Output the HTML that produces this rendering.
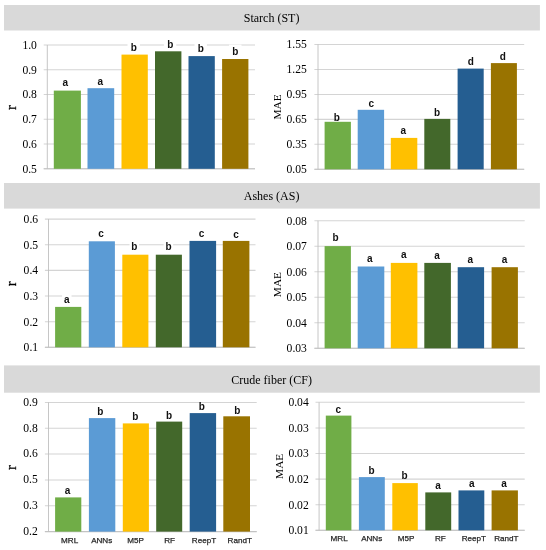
<!DOCTYPE html>
<html lang="en"><head><meta charset="utf-8"><title>Figure</title>
<style>html,body{margin:0;padding:0;background:#fff}svg{display:block}.t{font-family:"Liberation Serif","Times New Roman",serif;fill:#000}.s{font-family:"Liberation Sans",Arial,sans-serif}</style></head><body>
<svg width="546" height="550" viewBox="0 0 546 550">
<rect width="546" height="550" fill="#fff"/>
<rect x="4" y="5" width="535.9" height="25.5" fill="#D9D9D9"/>
<text class="t" x="271.6" y="22.1" font-size="12" text-anchor="middle">Starch (ST)</text>
<rect x="4" y="183" width="535.9" height="25.6" fill="#D9D9D9"/>
<text class="t" x="271.6" y="200.1" font-size="12" text-anchor="middle">Ashes (AS)</text>
<rect x="4" y="365.4" width="535.9" height="27.3" fill="#D9D9D9"/>
<text class="t" x="271.6" y="383.8" font-size="12" text-anchor="middle">Crude fiber (CF)</text>
<g>
<line x1="43.7" y1="45" x2="255" y2="45" stroke="#D4D4D4" stroke-width="1.05"/>
<text class="t" x="36.9" y="48.9" font-size="11.6" text-anchor="end">1.0</text>
<line x1="43.7" y1="69.76" x2="255" y2="69.76" stroke="#D4D4D4" stroke-width="1.05"/>
<text class="t" x="36.9" y="73.66" font-size="11.6" text-anchor="end">0.9</text>
<line x1="43.7" y1="94.52" x2="255" y2="94.52" stroke="#D4D4D4" stroke-width="1.05"/>
<text class="t" x="36.9" y="98.42" font-size="11.6" text-anchor="end">0.8</text>
<line x1="43.7" y1="119.28" x2="255" y2="119.28" stroke="#D4D4D4" stroke-width="1.05"/>
<text class="t" x="36.9" y="123.18" font-size="11.6" text-anchor="end">0.7</text>
<line x1="43.7" y1="144.04" x2="255" y2="144.04" stroke="#D4D4D4" stroke-width="1.05"/>
<text class="t" x="36.9" y="147.94" font-size="11.6" text-anchor="end">0.6</text>
<line x1="43.7" y1="168.8" x2="255" y2="168.8" stroke="#D4D4D4" stroke-width="1.05"/>
<text class="t" x="36.9" y="172.7" font-size="11.6" text-anchor="end">0.5</text>
<line x1="47.3" y1="45" x2="47.3" y2="168.8" stroke="#BFBFBF" stroke-width="0.9"/>
<line x1="43.7" y1="168.8" x2="255" y2="168.8" stroke="#BFBFBF" stroke-width="0.9"/>
<rect x="58.9" y="75.7" width="12.4" height="13" fill="#fff"/>
<rect x="94.1" y="74.8" width="12.4" height="13" fill="#fff"/>
<rect x="127.5" y="40.6" width="12.4" height="13" fill="#fff"/>
<rect x="163.9" y="38" width="12.4" height="13" fill="#fff"/>
<rect x="194.5" y="42.1" width="12.4" height="13" fill="#fff"/>
<rect x="229.1" y="44.6" width="12.4" height="13" fill="#fff"/>
<rect x="53.8" y="90.6" width="27.1" height="78.2" fill="#70AD47"/>
<rect x="87.5" y="88.2" width="26.7" height="80.6" fill="#5B9BD5"/>
<rect x="121.5" y="54.6" width="26.3" height="114.2" fill="#FFC000"/>
<rect x="155" y="51.3" width="26.4" height="117.5" fill="#43682B"/>
<rect x="188.5" y="56.1" width="26.3" height="112.7" fill="#255E91"/>
<rect x="222.1" y="59" width="26.3" height="109.8" fill="#997300"/>
<text class="s" x="65.2" y="86" font-size="10" font-weight="bold" fill="#111" stroke="#111" stroke-width="0" text-anchor="middle">a</text>
<text class="s" x="100.4" y="85.1" font-size="10" font-weight="bold" fill="#111" stroke="#111" stroke-width="0" text-anchor="middle">a</text>
<text class="s" x="133.8" y="50.9" font-size="10" font-weight="bold" fill="#111" stroke="#111" stroke-width="0" text-anchor="middle">b</text>
<text class="s" x="170.2" y="48.3" font-size="10" font-weight="bold" fill="#111" stroke="#111" stroke-width="0" text-anchor="middle">b</text>
<text class="s" x="200.8" y="52.4" font-size="10" font-weight="bold" fill="#111" stroke="#111" stroke-width="0" text-anchor="middle">b</text>
<text class="s" x="235.4" y="54.9" font-size="10" font-weight="bold" fill="#111" stroke="#111" stroke-width="0" text-anchor="middle">b</text>
<text class="t" transform="translate(16 107.5) rotate(-90)" font-size="14.5" stroke="#000" stroke-width="0.3" text-anchor="middle">r</text>
</g>
<g>
<line x1="314.4" y1="44.5" x2="524.2" y2="44.5" stroke="#D4D4D4" stroke-width="1.05"/>
<text class="t" x="306.8" y="48.1" font-size="11.6" text-anchor="end">1.55</text>
<line x1="314.4" y1="69.46" x2="524.2" y2="69.46" stroke="#D4D4D4" stroke-width="1.05"/>
<text class="t" x="306.8" y="73.06" font-size="11.6" text-anchor="end">1.25</text>
<line x1="314.4" y1="94.42" x2="524.2" y2="94.42" stroke="#D4D4D4" stroke-width="1.05"/>
<text class="t" x="306.8" y="98.02" font-size="11.6" text-anchor="end">0.95</text>
<line x1="314.4" y1="119.38" x2="524.2" y2="119.38" stroke="#D4D4D4" stroke-width="1.05"/>
<text class="t" x="306.8" y="122.98" font-size="11.6" text-anchor="end">0.65</text>
<line x1="314.4" y1="144.34" x2="524.2" y2="144.34" stroke="#D4D4D4" stroke-width="1.05"/>
<text class="t" x="306.8" y="147.94" font-size="11.6" text-anchor="end">0.35</text>
<line x1="314.4" y1="169.3" x2="524.2" y2="169.3" stroke="#D4D4D4" stroke-width="1.05"/>
<text class="t" x="306.8" y="172.9" font-size="11.6" text-anchor="end">0.05</text>
<line x1="318" y1="44.5" x2="318" y2="169.3" stroke="#BFBFBF" stroke-width="0.9"/>
<line x1="314.4" y1="169.3" x2="524.2" y2="169.3" stroke="#BFBFBF" stroke-width="0.9"/>
<rect x="324.6" y="121.8" width="26.3" height="47.5" fill="#70AD47"/>
<rect x="357.7" y="109.8" width="26.4" height="59.5" fill="#5B9BD5"/>
<rect x="390.8" y="137.9" width="26.5" height="31.4" fill="#FFC000"/>
<rect x="424.3" y="118.9" width="26" height="50.4" fill="#43682B"/>
<rect x="457.6" y="68.6" width="26.1" height="100.7" fill="#255E91"/>
<rect x="490.9" y="63.1" width="26" height="106.2" fill="#997300"/>
<text class="s" x="336.9" y="120.6" font-size="10" font-weight="bold" fill="#111" stroke="#111" stroke-width="0" text-anchor="middle">b</text>
<text class="s" x="371.2" y="107.3" font-size="10" font-weight="bold" fill="#111" stroke="#111" stroke-width="0" text-anchor="middle">c</text>
<text class="s" x="403.2" y="133.6" font-size="10" font-weight="bold" fill="#111" stroke="#111" stroke-width="0" text-anchor="middle">a</text>
<text class="s" x="437" y="116.3" font-size="10" font-weight="bold" fill="#111" stroke="#111" stroke-width="0" text-anchor="middle">b</text>
<text class="s" x="470.8" y="65.4" font-size="10" font-weight="bold" fill="#111" stroke="#111" stroke-width="0" text-anchor="middle">d</text>
<text class="s" x="502.9" y="59.6" font-size="10" font-weight="bold" fill="#111" stroke="#111" stroke-width="0" text-anchor="middle">d</text>
<text class="t" transform="translate(281.4 106.9) rotate(-90)" font-size="11" text-anchor="middle" textLength="25.2" lengthAdjust="spacingAndGlyphs">MAE</text>
</g>
<g>
<line x1="44.9" y1="219.1" x2="255.5" y2="219.1" stroke="#D4D4D4" stroke-width="1.05"/>
<text class="t" x="38.1" y="223" font-size="11.6" text-anchor="end">0.6</text>
<line x1="44.9" y1="244.74" x2="255.5" y2="244.74" stroke="#D4D4D4" stroke-width="1.05"/>
<text class="t" x="38.1" y="248.64" font-size="11.6" text-anchor="end">0.5</text>
<line x1="44.9" y1="270.38" x2="255.5" y2="270.38" stroke="#D4D4D4" stroke-width="1.05"/>
<text class="t" x="38.1" y="274.28" font-size="11.6" text-anchor="end">0.4</text>
<line x1="44.9" y1="296.02" x2="255.5" y2="296.02" stroke="#D4D4D4" stroke-width="1.05"/>
<text class="t" x="38.1" y="299.92" font-size="11.6" text-anchor="end">0.3</text>
<line x1="44.9" y1="321.66" x2="255.5" y2="321.66" stroke="#D4D4D4" stroke-width="1.05"/>
<text class="t" x="38.1" y="325.56" font-size="11.6" text-anchor="end">0.2</text>
<line x1="44.9" y1="347.3" x2="255.5" y2="347.3" stroke="#D4D4D4" stroke-width="1.05"/>
<text class="t" x="38.1" y="351.2" font-size="11.6" text-anchor="end">0.1</text>
<line x1="48.5" y1="219.1" x2="48.5" y2="347.3" stroke="#BFBFBF" stroke-width="0.9"/>
<line x1="44.9" y1="347.3" x2="255.5" y2="347.3" stroke="#BFBFBF" stroke-width="0.9"/>
<rect x="62.05" y="292.8" width="9.5" height="13" fill="#fff"/>
<rect x="96.15" y="227.1" width="9.5" height="13" fill="#fff"/>
<rect x="129.55" y="240.1" width="9.5" height="13" fill="#fff"/>
<rect x="163.65" y="240.1" width="9.5" height="13" fill="#fff"/>
<rect x="196.65" y="227.1" width="9.5" height="13" fill="#fff"/>
<rect x="231.25" y="228.1" width="9.5" height="13" fill="#fff"/>
<rect x="55.1" y="306.9" width="26.2" height="40.4" fill="#70AD47"/>
<rect x="88.8" y="241.3" width="26.1" height="106" fill="#5B9BD5"/>
<rect x="122.3" y="254.7" width="26.1" height="92.6" fill="#FFC000"/>
<rect x="155.8" y="254.7" width="26.1" height="92.6" fill="#43682B"/>
<rect x="189.5" y="240.9" width="26.6" height="106.4" fill="#255E91"/>
<rect x="222.8" y="240.9" width="26.6" height="106.4" fill="#997300"/>
<text class="s" x="66.9" y="303.1" font-size="10" font-weight="bold" fill="#111" stroke="#111" stroke-width="0" text-anchor="middle">a</text>
<text class="s" x="101" y="237.4" font-size="10" font-weight="bold" fill="#111" stroke="#111" stroke-width="0" text-anchor="middle">c</text>
<text class="s" x="134.4" y="250.4" font-size="10" font-weight="bold" fill="#111" stroke="#111" stroke-width="0" text-anchor="middle">b</text>
<text class="s" x="168.5" y="250.4" font-size="10" font-weight="bold" fill="#111" stroke="#111" stroke-width="0" text-anchor="middle">b</text>
<text class="s" x="201.5" y="237.4" font-size="10" font-weight="bold" fill="#111" stroke="#111" stroke-width="0" text-anchor="middle">c</text>
<text class="s" x="236.1" y="238.4" font-size="10" font-weight="bold" fill="#111" stroke="#111" stroke-width="0" text-anchor="middle">c</text>
<text class="t" transform="translate(16 283.8) rotate(-90)" font-size="14.5" stroke="#000" stroke-width="0.3" text-anchor="middle">r</text>
</g>
<g>
<line x1="314.4" y1="220.8" x2="524.7" y2="220.8" stroke="#D4D4D4" stroke-width="1.05"/>
<text class="t" x="306.9" y="224.7" font-size="11.6" text-anchor="end">0.08</text>
<line x1="314.4" y1="246.3" x2="524.7" y2="246.3" stroke="#D4D4D4" stroke-width="1.05"/>
<text class="t" x="306.9" y="250.2" font-size="11.6" text-anchor="end">0.07</text>
<line x1="314.4" y1="271.8" x2="524.7" y2="271.8" stroke="#D4D4D4" stroke-width="1.05"/>
<text class="t" x="306.9" y="275.7" font-size="11.6" text-anchor="end">0.06</text>
<line x1="314.4" y1="297.3" x2="524.7" y2="297.3" stroke="#D4D4D4" stroke-width="1.05"/>
<text class="t" x="306.9" y="301.2" font-size="11.6" text-anchor="end">0.05</text>
<line x1="314.4" y1="322.8" x2="524.7" y2="322.8" stroke="#D4D4D4" stroke-width="1.05"/>
<text class="t" x="306.9" y="326.7" font-size="11.6" text-anchor="end">0.04</text>
<line x1="314.4" y1="348.3" x2="524.7" y2="348.3" stroke="#D4D4D4" stroke-width="1.05"/>
<text class="t" x="306.9" y="352.2" font-size="11.6" text-anchor="end">0.03</text>
<line x1="318" y1="220.8" x2="318" y2="348.3" stroke="#BFBFBF" stroke-width="0.9"/>
<line x1="314.4" y1="348.3" x2="524.7" y2="348.3" stroke="#BFBFBF" stroke-width="0.9"/>
<rect x="324.6" y="246.1" width="26.3" height="102.2" fill="#70AD47"/>
<rect x="357.7" y="266.5" width="26.6" height="81.8" fill="#5B9BD5"/>
<rect x="390.8" y="262.9" width="26.6" height="85.4" fill="#FFC000"/>
<rect x="424.3" y="262.9" width="26.6" height="85.4" fill="#43682B"/>
<rect x="457.7" y="267.2" width="26.4" height="81.1" fill="#255E91"/>
<rect x="491.6" y="267.2" width="26.3" height="81.1" fill="#997300"/>
<text class="s" x="335.6" y="241.1" font-size="10" font-weight="bold" fill="#111" stroke="#111" stroke-width="0" text-anchor="middle">b</text>
<text class="s" x="369.7" y="261.7" font-size="10" font-weight="bold" fill="#111" stroke="#111" stroke-width="0" text-anchor="middle">a</text>
<text class="s" x="403.9" y="258.4" font-size="10" font-weight="bold" fill="#111" stroke="#111" stroke-width="0" text-anchor="middle">a</text>
<text class="s" x="437" y="258.7" font-size="10" font-weight="bold" fill="#111" stroke="#111" stroke-width="0" text-anchor="middle">a</text>
<text class="s" x="470.3" y="262.9" font-size="10" font-weight="bold" fill="#111" stroke="#111" stroke-width="0" text-anchor="middle">a</text>
<text class="s" x="504.6" y="262.9" font-size="10" font-weight="bold" fill="#111" stroke="#111" stroke-width="0" text-anchor="middle">a</text>
<text class="t" transform="translate(281.4 284.55) rotate(-90)" font-size="11" text-anchor="middle" textLength="25.2" lengthAdjust="spacingAndGlyphs">MAE</text>
</g>
<g>
<line x1="44.9" y1="402.4" x2="256.7" y2="402.4" stroke="#D4D4D4" stroke-width="1.05"/>
<text class="t" x="37.8" y="405.7" font-size="11.6" text-anchor="end">0.9</text>
<line x1="44.9" y1="428.24" x2="256.7" y2="428.24" stroke="#D4D4D4" stroke-width="1.05"/>
<text class="t" x="37.8" y="431.54" font-size="11.6" text-anchor="end">0.8</text>
<line x1="44.9" y1="454.08" x2="256.7" y2="454.08" stroke="#D4D4D4" stroke-width="1.05"/>
<text class="t" x="37.8" y="457.38" font-size="11.6" text-anchor="end">0.6</text>
<line x1="44.9" y1="479.92" x2="256.7" y2="479.92" stroke="#D4D4D4" stroke-width="1.05"/>
<text class="t" x="37.8" y="483.22" font-size="11.6" text-anchor="end">0.5</text>
<line x1="44.9" y1="505.76" x2="256.7" y2="505.76" stroke="#D4D4D4" stroke-width="1.05"/>
<text class="t" x="37.8" y="509.06" font-size="11.6" text-anchor="end">0.3</text>
<line x1="44.9" y1="531.6" x2="256.7" y2="531.6" stroke="#D4D4D4" stroke-width="1.05"/>
<text class="t" x="37.8" y="534.9" font-size="11.6" text-anchor="end">0.2</text>
<line x1="48.5" y1="402.4" x2="48.5" y2="531.6" stroke="#BFBFBF" stroke-width="0.9"/>
<line x1="44.9" y1="531.6" x2="256.7" y2="531.6" stroke="#BFBFBF" stroke-width="0.9"/>
<rect x="55.1" y="497.4" width="26.2" height="34.2" fill="#70AD47"/>
<rect x="88.9" y="418.1" width="26.4" height="113.5" fill="#5B9BD5"/>
<rect x="122.8" y="423.4" width="26.1" height="108.2" fill="#FFC000"/>
<rect x="156.2" y="421.6" width="26" height="110" fill="#43682B"/>
<rect x="189.7" y="413.1" width="26.4" height="118.5" fill="#255E91"/>
<rect x="223.3" y="416.3" width="26.7" height="115.3" fill="#997300"/>
<text class="s" x="67.6" y="493.7" font-size="10" font-weight="bold" fill="#111" stroke="#111" stroke-width="0" text-anchor="middle">a</text>
<text class="s" x="100.2" y="414.9" font-size="10" font-weight="bold" fill="#111" stroke="#111" stroke-width="0" text-anchor="middle">b</text>
<text class="s" x="135.4" y="420.4" font-size="10" font-weight="bold" fill="#111" stroke="#111" stroke-width="0" text-anchor="middle">b</text>
<text class="s" x="169" y="418.8" font-size="10" font-weight="bold" fill="#111" stroke="#111" stroke-width="0" text-anchor="middle">b</text>
<text class="s" x="201.8" y="410.4" font-size="10" font-weight="bold" fill="#111" stroke="#111" stroke-width="0" text-anchor="middle">b</text>
<text class="s" x="237.2" y="413.6" font-size="10" font-weight="bold" fill="#111" stroke="#111" stroke-width="0" text-anchor="middle">b</text>
<text class="t" transform="translate(16 467.6) rotate(-90)" font-size="14.5" stroke="#000" stroke-width="0.3" text-anchor="middle">r</text>
<text class="s" x="69.6" y="542.5" font-size="8.1" fill="#262626" stroke="#262626" stroke-width="0.25" text-anchor="middle">MRL</text>
<text class="s" x="101.7" y="542.5" font-size="8.1" fill="#262626" stroke="#262626" stroke-width="0.25" text-anchor="middle">ANNs</text>
<text class="s" x="135.5" y="542.5" font-size="8.1" fill="#262626" stroke="#262626" stroke-width="0.25" text-anchor="middle">M5P</text>
<text class="s" x="169.6" y="542.5" font-size="8.1" fill="#262626" stroke="#262626" stroke-width="0.25" text-anchor="middle">RF</text>
<text class="s" x="204" y="542.5" font-size="8.1" fill="#262626" stroke="#262626" stroke-width="0.25" text-anchor="middle">ReepT</text>
<text class="s" x="239.7" y="542.5" font-size="8.1" fill="#262626" stroke="#262626" stroke-width="0.25" text-anchor="middle">RandT</text>
</g>
<g>
<line x1="315.5" y1="402.3" x2="524.7" y2="402.3" stroke="#D4D4D4" stroke-width="1.05"/>
<text class="t" x="308.7" y="406.2" font-size="11.6" text-anchor="end">0.04</text>
<line x1="315.5" y1="427.9" x2="524.7" y2="427.9" stroke="#D4D4D4" stroke-width="1.05"/>
<text class="t" x="308.7" y="431.8" font-size="11.6" text-anchor="end">0.03</text>
<line x1="315.5" y1="453.5" x2="524.7" y2="453.5" stroke="#D4D4D4" stroke-width="1.05"/>
<text class="t" x="308.7" y="457.4" font-size="11.6" text-anchor="end">0.03</text>
<line x1="315.5" y1="479.1" x2="524.7" y2="479.1" stroke="#D4D4D4" stroke-width="1.05"/>
<text class="t" x="308.7" y="483" font-size="11.6" text-anchor="end">0.02</text>
<line x1="315.5" y1="504.7" x2="524.7" y2="504.7" stroke="#D4D4D4" stroke-width="1.05"/>
<text class="t" x="308.7" y="508.6" font-size="11.6" text-anchor="end">0.02</text>
<line x1="315.5" y1="530.3" x2="524.7" y2="530.3" stroke="#D4D4D4" stroke-width="1.05"/>
<text class="t" x="308.7" y="534.2" font-size="11.6" text-anchor="end">0.01</text>
<line x1="319.1" y1="402.3" x2="319.1" y2="530.3" stroke="#BFBFBF" stroke-width="0.9"/>
<line x1="315.5" y1="530.3" x2="524.7" y2="530.3" stroke="#BFBFBF" stroke-width="0.9"/>
<rect x="325.8" y="415.6" width="25.6" height="114.7" fill="#70AD47"/>
<rect x="358.9" y="477.1" width="25.9" height="53.2" fill="#5B9BD5"/>
<rect x="392.3" y="483.1" width="25.5" height="47.2" fill="#FFC000"/>
<rect x="425.3" y="492.4" width="25.9" height="37.9" fill="#43682B"/>
<rect x="458.5" y="490.4" width="25.8" height="39.9" fill="#255E91"/>
<rect x="491.6" y="490.4" width="26.3" height="39.9" fill="#997300"/>
<text class="s" x="338.4" y="412.9" font-size="10" font-weight="bold" fill="#111" stroke="#111" stroke-width="0" text-anchor="middle">c</text>
<text class="s" x="371.5" y="474.3" font-size="10" font-weight="bold" fill="#111" stroke="#111" stroke-width="0" text-anchor="middle">b</text>
<text class="s" x="404.6" y="479.4" font-size="10" font-weight="bold" fill="#111" stroke="#111" stroke-width="0" text-anchor="middle">b</text>
<text class="s" x="438" y="488.6" font-size="10" font-weight="bold" fill="#111" stroke="#111" stroke-width="0" text-anchor="middle">a</text>
<text class="s" x="471.8" y="487.4" font-size="10" font-weight="bold" fill="#111" stroke="#111" stroke-width="0" text-anchor="middle">a</text>
<text class="s" x="504.1" y="487.4" font-size="10" font-weight="bold" fill="#111" stroke="#111" stroke-width="0" text-anchor="middle">a</text>
<text class="t" transform="translate(282.5 466.3) rotate(-90)" font-size="11" text-anchor="middle" textLength="25.2" lengthAdjust="spacingAndGlyphs">MAE</text>
<text class="s" x="339.1" y="540.8" font-size="8.1" fill="#262626" stroke="#262626" stroke-width="0.25" text-anchor="middle">MRL</text>
<text class="s" x="371.7" y="540.8" font-size="8.1" fill="#262626" stroke="#262626" stroke-width="0.25" text-anchor="middle">ANNs</text>
<text class="s" x="406.1" y="540.8" font-size="8.1" fill="#262626" stroke="#262626" stroke-width="0.25" text-anchor="middle">M5P</text>
<text class="s" x="440.4" y="540.8" font-size="8.1" fill="#262626" stroke="#262626" stroke-width="0.25" text-anchor="middle">RF</text>
<text class="s" x="473.8" y="540.8" font-size="8.1" fill="#262626" stroke="#262626" stroke-width="0.25" text-anchor="middle">ReepT</text>
<text class="s" x="506.3" y="540.8" font-size="8.1" fill="#262626" stroke="#262626" stroke-width="0.25" text-anchor="middle">RandT</text>
</g>
</svg></body></html>
